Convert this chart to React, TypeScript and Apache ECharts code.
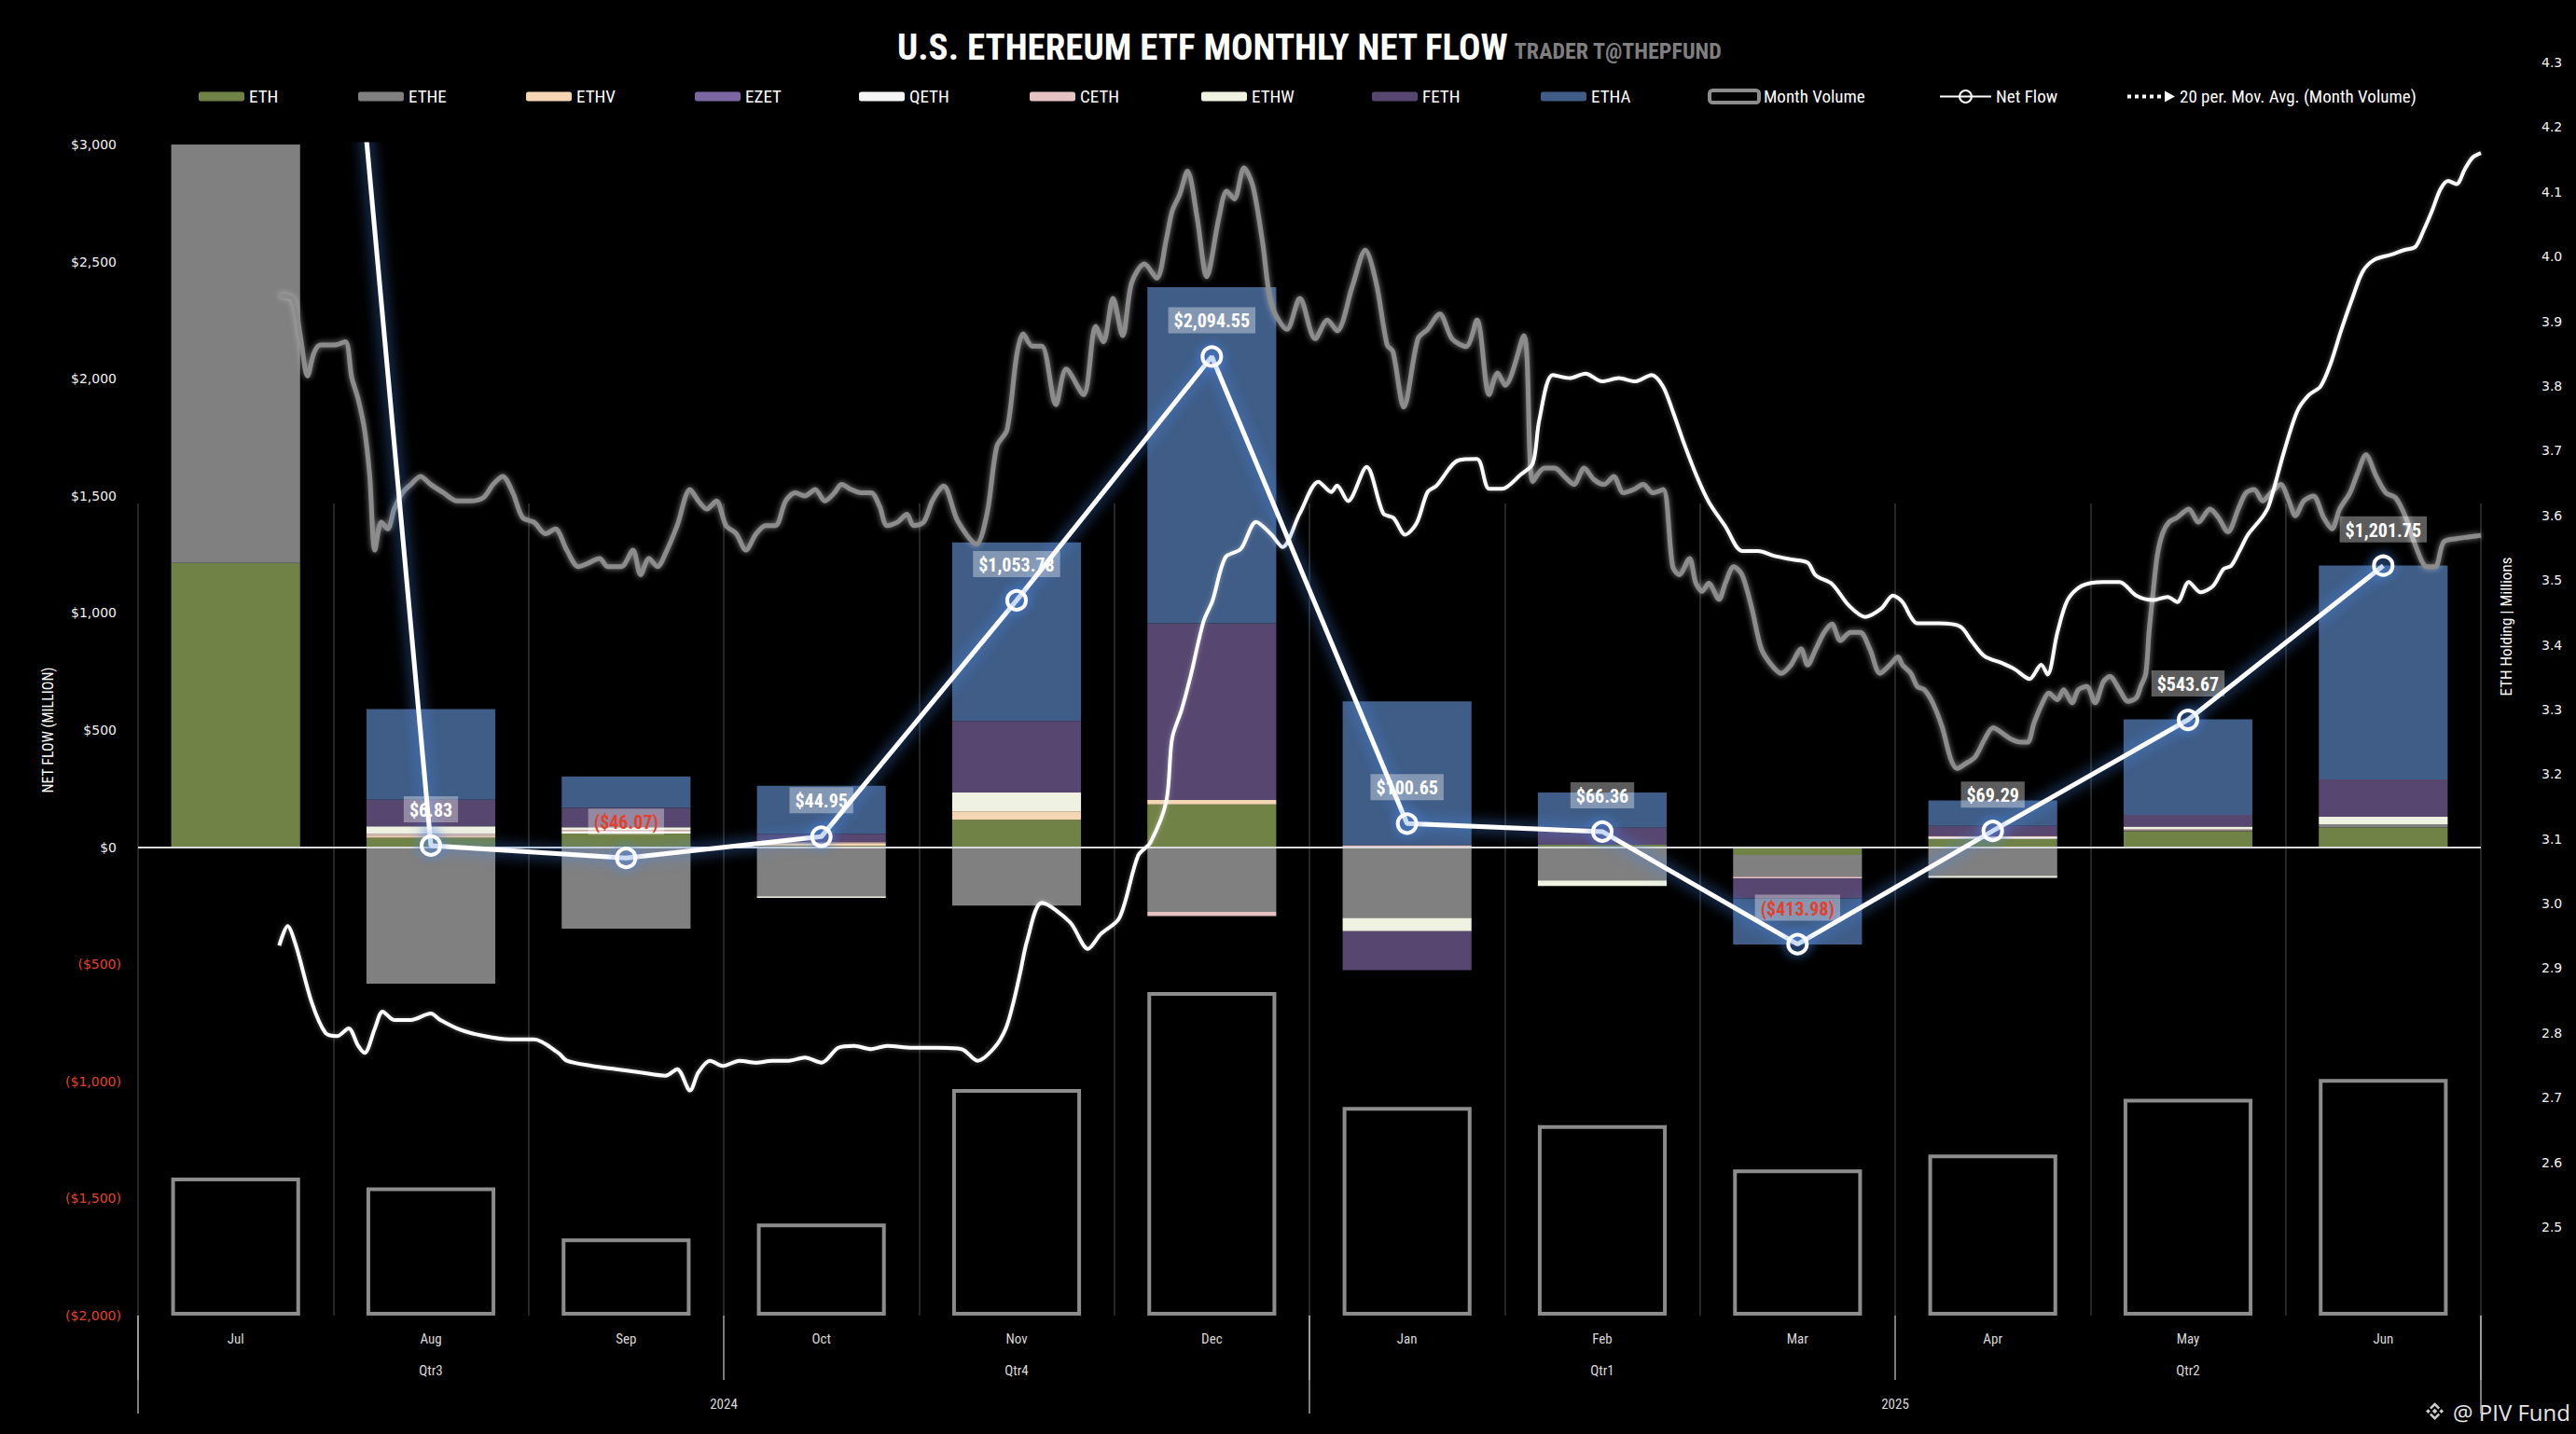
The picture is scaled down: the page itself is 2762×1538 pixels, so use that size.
import React, { useEffect, useRef } from "react";
import * as echarts from "echarts";

// ---------- categories ----------
const months = ["Jul", "Aug", "Sep", "Oct", "Nov", "Dec", "Jan", "Feb", "Mar", "Apr", "May", "Jun"];
const quarters = ["Qtr3", "Qtr4", "Qtr1", "Qtr2"];
const years = ["2024", "2025"];

// ---------- monthly net flow per ETF ($ million) ----------
const ethFlow = [1214, 40, 58, 5, 117, 183, 0, 10, -33, 35, 68, 84];
const etheFlow = [7930, -583, -348, -210, -249, -276, -302, -142, -93, -122, 4, 13];
const ethvFlow = [0, 9, 0, 12, 36, 18, 0, 0, 0, 0, 0, 0];
const ezetFlow = [0, 0, 0, 0, 0, 0, 0, 0, 0, 0, 0, 0];
const qethFlow = [0, 0, 8, 0, 0, 0, 0, 0, 0, 7, 0, 0];
const cethFlow = [0, 7, 7, 4, 0, -18, 8, 0, -7, 6, 5, 0];
const ethwFlow = [0, 33, 12, -7, 80, 0, -57, -24, 0, -9, 11, 33];
const fethFlow = [0, 113, 84, 36, 306, 755, -166, 73, -86, 43, 50, 159];
const ethaFlow = [0, 388, 133, 205, 762, 1435, 614, 150, -197, 108, 408, 914];

// total net flow ($ million)
const netFlow = [9144, 6.83, -46.07, 44.95, 1053.78, 2094.55, 100.65, 66.36, -413.98, 69.29, 543.67, 1201.75];

// month trading volume ($ billion)
const monthVolume = [8.4, 7.8, 4.7, 5.6, 13.8, 19.7, 12.7, 11.6, 8.9, 9.8, 13.2, 14.4];

// ---------- daily series: [day since Jul 1 2024, value] ----------
const ethPrice: [number, number][] = [
  [22.0, 3450], [24.1, 3436], [25.3, 3278], [26.4, 3113], [27.4, 3209], [28.4, 3243], [30.7, 3243], [32.3, 3257],
  [33.3, 3106], [34.3, 3016], [35.3, 2886], [36.1, 2693], [36.9, 2384], [37.9, 2501], [38.9, 2473], [39.9, 2556],
  [41.2, 2624], [42.5, 2659], [44.0, 2693], [45.6, 2659], [47.6, 2624], [49.7, 2590], [51.7, 2590], [53.8, 2604],
  [55.3, 2659], [56.8, 2693], [58.4, 2624], [59.9, 2521], [61.7, 2501], [63.5, 2453], [65.0, 2473], [66.8, 2384],
  [68.6, 2315], [70.1, 2329], [71.9, 2349], [73.2, 2315], [75.3, 2315], [77.1, 2384], [78.3, 2281], [79.6, 2349],
  [80.9, 2315], [82.4, 2384], [84.0, 2487], [86.0, 2638], [87.3, 2590], [88.6, 2556], [90.1, 2590], [91.6, 2487],
  [93.2, 2453], [94.7, 2384], [96.3, 2453], [97.8, 2487], [99.3, 2487], [100.9, 2590], [102.4, 2624], [103.9, 2611],
  [105.5, 2638], [107.0, 2590], [108.5, 2624], [109.6, 2659], [111.1, 2638], [112.6, 2624], [114.2, 2624], [115.5, 2570],
  [116.7, 2487], [118.3, 2501], [119.8, 2535], [120.8, 2487], [122.4, 2501], [123.8, 2593], [125.5, 2653], [127.7, 2506],
  [130.6, 2410], [132.3, 2541], [133.8, 2819], [135.4, 2889], [136.9, 3202], [137.9, 3290], [139.3, 3238], [140.8, 3238],
  [143.0, 2993], [144.6, 3142], [147.3, 3035], [149.2, 3321], [150.4, 3256], [151.9, 3438], [153.4, 3282], [154.8, 3503],
  [156.8, 3582], [158.7, 3522], [160.2, 3685], [161.1, 3802], [162.3, 3874], [163.5, 3971], [165.0, 3776], [166.5, 3529],
  [168.4, 3776], [169.6, 3887], [170.8, 3854], [172.3, 3984], [173.7, 3907], [175.2, 3672], [176.6, 3412], [179.0, 3308],
  [181.0, 3438], [183.4, 3269], [185.3, 3347], [186.8, 3302], [189.2, 3490], [191.2, 3640], [192.9, 3503], [194.6, 3243],
  [195.5, 3216], [197.2, 2983], [199.4, 3269], [200.9, 3308], [202.8, 3373], [204.7, 3269], [206.9, 3236], [208.6, 3347],
  [210.5, 3035], [211.8, 3126], [213.0, 3074], [215.9, 3282], [217.3, 2671], [219.1, 2728], [220.7, 2728], [222.2, 2693],
  [223.7, 2659], [225.3, 2728], [226.8, 2680], [228.4, 2659], [229.9, 2693], [231.4, 2624], [233.0, 2638], [234.5, 2659],
  [236.0, 2624], [237.6, 2638], [239.1, 2315], [240.1, 2281], [241.7, 2349], [242.7, 2246], [243.7, 2212], [244.7, 2246],
  [246.3, 2178], [247.3, 2246], [248.6, 2315], [249.9, 2281], [251.4, 2143], [252.9, 1971], [254.5, 1903], [256.0, 1868],
  [257.5, 1903], [259.1, 1971], [260.1, 1903], [261.4, 1971], [262.7, 2040], [263.9, 2075], [265.2, 2006], [266.8, 2040],
  [268.3, 2040], [269.8, 1971], [271.4, 1868], [272.9, 1903], [274.2, 1937], [274.9, 1903], [276.2, 1868], [277.2, 1813],
  [278.3, 1800], [279.6, 1745], [281.1, 1641], [282.4, 1511], [283.4, 1470], [284.7, 1490], [286.2, 1518], [287.7, 1593],
  [289.0, 1641], [290.3, 1621], [291.8, 1593], [293.4, 1580], [294.4, 1580], [295.4, 1662], [296.7, 1745], [297.7, 1786],
  [299.0, 1758], [300.0, 1800], [301.3, 1745], [302.3, 1800], [303.6, 1813], [304.9, 1745], [306.2, 1834], [307.2, 1855],
  [308.7, 1800], [310.0, 1751], [311.3, 1765], [312.0, 1813], [312.8, 1868], [313.3, 2040], [313.9, 2198], [314.6, 2363],
  [315.4, 2453], [316.4, 2501], [317.7, 2521], [319.5, 2556], [321.0, 2501], [322.8, 2556], [324.1, 2521], [325.6, 2460],
  [327.2, 2556], [328.4, 2624], [329.7, 2638], [331.0, 2590], [332.3, 2624], [333.8, 2659], [335.1, 2590], [336.1, 2528],
  [337.4, 2590], [338.9, 2611], [340.5, 2521], [341.8, 2473], [343.0, 2556], [344.6, 2624], [345.8, 2707], [347.1, 2783],
  [348.7, 2693], [350.2, 2624], [351.7, 2604], [353.3, 2521], [354.8, 2404], [356.6, 2315], [357.9, 2315], [359.2, 2418],
  [361.2, 2432], [363.0, 2439], [365.0, 2446],
];

// ETF ETH holdings (millions of ETH)
const ethHolding: [number, number][] = [
  [22.0, 2.935], [23.3, 2.965], [24.6, 2.935], [27.1, 2.846], [29.2, 2.8], [31.0, 2.795], [32.8, 2.807], [34.3, 2.78],
  [35.3, 2.769], [36.9, 2.807], [38.1, 2.833], [39.9, 2.82], [42.5, 2.82], [45.6, 2.83], [47.1, 2.82], [50.2, 2.805],
  [54.0, 2.795], [57.9, 2.79], [61.7, 2.79], [65.5, 2.769], [66.8, 2.757], [70.7, 2.749], [74.5, 2.744], [78.3, 2.739],
  [82.2, 2.734], [84.0, 2.744], [86.0, 2.711], [87.3, 2.739], [89.1, 2.757], [91.1, 2.749], [93.7, 2.757], [96.3, 2.754],
  [98.8, 2.757], [101.4, 2.757], [103.9, 2.762], [106.5, 2.754], [109.1, 2.777], [111.6, 2.78], [114.2, 2.775],
  [116.7, 2.78], [120.6, 2.777], [124.4, 2.777], [128.3, 2.775], [130.8, 2.757], [133.4, 2.777], [135.2, 2.807],
  [136.4, 2.848], [137.5, 2.896], [138.5, 2.942], [140.8, 3.001], [145.2, 2.971], [148.0, 2.93], [150.0, 2.953],
  [152.9, 2.978], [155.8, 3.074], [157.7, 3.094], [160.2, 3.158], [161.1, 3.255], [162.6, 3.3], [164.0, 3.352],
  [166.0, 3.436], [167.4, 3.468], [169.4, 3.535], [171.8, 3.548], [174.2, 3.59], [176.6, 3.57], [178.3, 3.551],
  [181.0, 3.603], [183.9, 3.652], [185.9, 3.636], [186.8, 3.646], [188.5, 3.622], [191.4, 3.675], [194.0, 3.603],
  [195.6, 3.596], [197.4, 3.57], [199.2, 3.588], [200.9, 3.636], [202.3, 3.646], [205.7, 3.685], [208.6, 3.687],
  [210.5, 3.641], [212.5, 3.641], [215.4, 3.663], [217.3, 3.68], [218.3, 3.747], [220.4, 3.817], [223.0, 3.812],
  [225.5, 3.819], [228.1, 3.807], [230.7, 3.812], [233.2, 3.807], [235.8, 3.817], [237.6, 3.799], [239.1, 3.761],
  [240.9, 3.71], [242.9, 3.659], [244.7, 3.621], [247.3, 3.583], [249.9, 3.545], [252.4, 3.545], [255.0, 3.537],
  [257.5, 3.532], [260.1, 3.527], [261.4, 3.507], [263.9, 3.494], [266.5, 3.461], [269.1, 3.443], [271.6, 3.456],
  [273.4, 3.476], [274.9, 3.466], [276.2, 3.443], [277.2, 3.433], [280.6, 3.433], [283.9, 3.428], [285.7, 3.405],
  [287.7, 3.382], [290.3, 3.372], [292.4, 3.362], [294.7, 3.347], [296.5, 3.369], [297.5, 3.354], [299.0, 3.418],
  [300.6, 3.469], [302.8, 3.491], [306.2, 3.497], [308.7, 3.497], [311.3, 3.476], [313.9, 3.469], [316.2, 3.474],
  [317.7, 3.466], [319.5, 3.497], [321.3, 3.481], [323.3, 3.491], [324.9, 3.517], [326.1, 3.522], [327.4, 3.545],
  [328.7, 3.57], [331.0, 3.598], [332.0, 3.616], [334.3, 3.697], [336.4, 3.761], [338.2, 3.786], [340.0, 3.799],
  [341.5, 3.832], [343.3, 3.888], [345.1, 3.939], [346.6, 3.977], [348.4, 3.995], [351.0, 4.003], [353.0, 4.01],
  [354.8, 4.015], [356.1, 4.041], [357.4, 4.071], [358.7, 4.104], [359.9, 4.117], [361.2, 4.112], [362.5, 4.135],
  [363.7, 4.153], [365.0, 4.16],
];

// axis tick settings
const flowTicks = { min: -2000, max: 3000, step: 500 };
const holdingTicks = { min: 2.5, max: 4.3, step: 0.1 };

const NARROW = '"Liberation Sans Narrow", "Roboto Condensed", "Arial Narrow", "Liberation Sans", sans-serif';
const WIDE = '"DejaVu Sans", Verdana, sans-serif';
const RED = "#e5402d";

const stackDefs = [
  { name: "ETH", data: ethFlow, color: "#718246" },
  { name: "ETHE", data: etheFlow, color: "#808080" },
  { name: "ETHV", data: ethvFlow, color: "#f4d6b4" },
  { name: "EZET", data: ezetFlow, color: "#7b67a3" },
  { name: "QETH", data: qethFlow, color: "#f5f5f5" },
  { name: "CETH", data: cethFlow, color: "#e6c2c2" },
  { name: "ETHW", data: ethwFlow, color: "#eff1e1" },
  { name: "FETH", data: fethFlow, color: "#574770" },
  { name: "ETHA", data: ethaFlow, color: "#3f5d87" },
];

const money = (v: number, dec: number) =>
  Math.abs(v).toLocaleString("en-US", { minimumFractionDigits: dec, maximumFractionDigits: dec });

echarts.graphic.registerShape(
  "pivlogo",
  echarts.graphic.extendPath(
    "M12,9.4L14.6,12L12,14.6L9.4,12Z M3,12L5.2,9.8L7.4,12L5.2,14.2Z M16.6,12L18.8,9.8L21,12L18.8,14.2Z " +
      "M12,3L17.3,8.3L15.6,10L12,6.4L8.4,10L6.7,8.3Z M12,21L17.3,15.7L15.6,14L12,17.6L8.4,14L6.7,15.7Z",
    {}
  )
);

function buildOption() {
  const GRID = { left: 148, right: 102, top: 155, bottom: 127 };

  const legendDefs: any[] = [
    { name: "ETH", left: 213 },
    { name: "ETHE", left: 384 },
    { name: "ETHV", left: 564 },
    { name: "EZET", left: 745 },
    { name: "QETH", left: 921 },
    { name: "CETH", left: 1104 },
    { name: "ETHW", left: 1288 },
    { name: "FETH", left: 1471 },
    { name: "ETHA", left: 1652 },
    {
      name: "Month Volume",
      left: 1831,
      w: 53,
      h: 13,
      itemStyle: { color: "rgba(0,0,0,0)", borderColor: "#8c8c8c", borderWidth: 4 },
    },
    { name: "Net Flow", left: 2079, w: 55, h: 16 },
    {
      name: "20 per. Mov. Avg. (Month Volume)",
      left: 2281,
      w: 51,
      h: 12,
      icon: "path://M0,4h4v4h-4z M8,4h4v4h-4z M16,4h4v4h-4z M24,4h4v4h-4z M32,4h4v4h-4z M40,0L51,6L40,12Z",
    },
  ];

  const legends = legendDefs.map((d) => ({
    data: [d.icon ? { name: d.name, icon: d.icon } : d.name],
    left: d.left,
    top: 94,
    padding: 0,
    itemGap: 0,
    itemWidth: d.w || 49,
    itemHeight: d.h || 10,
    selectedMode: false,
    textStyle: { color: "#ffffff", fontFamily: NARROW, fontSize: 19 },
    ...(d.itemStyle ? { itemStyle: d.itemStyle } : {}),
  }));

  const barSeries = stackDefs.map((s) => ({
    name: s.name,
    type: "bar",
    stack: "flow",
    xAxisIndex: 0,
    yAxisIndex: 0,
    barWidth: "66%",
    clip: true,
    z: 2,
    data: s.data,
    itemStyle: { color: s.color },
    emphasis: { disabled: true },
  }));

  const flowLabel = (v: number) =>
    v < 0 ? `{n|(\$${money(v, 2)})}` : `{p|\$${money(v, 2)}}`;

  return {
    animation: false,
    backgroundColor: "#000000",
    title: {
      text: "{a|U.S. ETHEREUM ETF MONTHLY NET FLOW}{b|TRADER T@THEPFUND}",
      left: 962,
      top: 31,
      padding: 0,
      textStyle: {
        rich: {
          a: { fontFamily: NARROW, fontWeight: "bold", fontSize: 39, color: "#ffffff", verticalAlign: "bottom" },
          b: {
            fontFamily: NARROW,
            fontWeight: "bold",
            fontSize: 24,
            color: "#7f7f7f",
            padding: [0, 0, 3, 6],
            verticalAlign: "bottom",
          },
        },
      },
    },
    legend: legends,
    grid: [
      { ...GRID },
      { left: 148, right: 102, top: 67, bottom: 222 },
      { left: 148, right: 102, top: 540, bottom: 127 },
    ],
    xAxis: [
      {
        type: "category",
        gridIndex: 0,
        data: months,
        position: "bottom",
        axisLine: { show: false },
        axisTick: { show: false },
        axisLabel: { color: "#d9d9d9", fontFamily: NARROW, fontSize: 15, margin: 17, interval: 0 },
        splitLine: { show: false },
      },
      { type: "category", gridIndex: 0, data: months, show: false },
      { type: "value", gridIndex: 0, min: 0, max: 365, show: false },
      {
        type: "category",
        gridIndex: 0,
        data: quarters,
        position: "bottom",
        axisLine: { show: false },
        axisTick: { show: true, length: 69, interval: 0, lineStyle: { color: "#a6a6a6", width: 1.5 } },
        axisLabel: { color: "#d9d9d9", fontFamily: NARROW, fontSize: 15, margin: 51, interval: 0 },
        splitLine: { show: false },
      },
      {
        type: "category",
        gridIndex: 0,
        data: years,
        position: "bottom",
        axisLine: { show: false },
        axisTick: { show: true, length: 105, interval: 0, lineStyle: { color: "#a6a6a6", width: 1.5 } },
        axisLabel: { color: "#d9d9d9", fontFamily: NARROW, fontSize: 15, margin: 87, interval: 0 },
        splitLine: { show: false },
      },
      { type: "value", gridIndex: 1, min: 0, max: 365, show: false },
      {
        type: "category",
        gridIndex: 2,
        data: months,
        axisLine: { show: false },
        axisTick: { show: false },
        axisLabel: { show: false },
        splitLine: { show: true, interval: 0, lineStyle: { color: "#262626", width: 2 } },
      },
    ],
    yAxis: [
      {
        type: "value",
        gridIndex: 0,
        min: flowTicks.min,
        max: flowTicks.max,
        interval: flowTicks.step,
        position: "left",
        axisLine: { show: false },
        axisTick: { show: false },
        splitLine: { show: false },
        axisLabel: {
          margin: 18,
          formatter: (v: number) => (v < 0 ? `{n|(\$${money(v, 0)})}` : `{p|\$${money(v, 0)}}`),
          rich: {
            p: { color: "#f2f2f2", fontFamily: WIDE, fontSize: 14, padding: [0, 5, 0, 0] },
            n: { color: RED, fontFamily: WIDE, fontSize: 14 },
          },
        },
        name: "NET FLOW (MILLION)",
        nameLocation: "middle",
        nameGap: 86,
        nameRotate: 90,
        nameTextStyle: { color: "#ffffff", fontFamily: NARROW, fontSize: 16 },
      },
      { type: "value", gridIndex: 0, min: 0, max: 71.3, show: false },
      { type: "value", gridIndex: 0, min: -820, max: 4082, show: false },
      {
        type: "value",
        gridIndex: 1,
        min: holdingTicks.min,
        max: holdingTicks.max,
        interval: holdingTicks.step,
        position: "right",
        axisLine: { show: false },
        axisTick: { show: false },
        splitLine: { show: false },
        axisLabel: {
          margin: 65,
          color: "#f2f2f2",
          fontFamily: WIDE,
          fontSize: 14,
          formatter: (v: number) => v.toFixed(1),
        },
      },
      { type: "value", gridIndex: 2, show: false, min: 0, max: 1 },
    ],
    graphic: [
      {
        type: "text",
        x: 2687,
        y: 672,
        rotation: Math.PI / 2,
        style: {
          text: "ETH Holding | Millions",
          fill: "#ffffff",
          font: `17px ${NARROW}`,
          align: "center",
          verticalAlign: "middle",
        },
      },
      {
        type: "pivlogo",
        x: 2598,
        y: 1501,
        scaleX: 1.05,
        scaleY: 1.05,
        style: { fill: "#cfcfcf" },
      },
      {
        type: "text",
        x: 2630,
        y: 1514,
        style: {
          text: "@ PIV Fund",
          fill: "#e6e6e6",
          font: `24px "Open Sans", "Noto Sans", sans-serif`,
          align: "left",
          verticalAlign: "middle",
        },
      },
    ],
    series: [
      ...barSeries,
      {
        name: "Month Volume",
        type: "bar",
        xAxisIndex: 1,
        yAxisIndex: 1,
        barWidth: "66%",
        z: 1,
        data: monthVolume,
        itemStyle: { color: "rgba(0,0,0,0)", borderColor: "#8c8c8c", borderWidth: 4 },
        emphasis: { disabled: true },
      },
      {
        name: "ETH Price",
        type: "line",
        xAxisIndex: 2,
        yAxisIndex: 2,
        data: ethPrice,
        showSymbol: false,
        smooth: 0.3,
        z: 4,
        silent: true,
        lineStyle: { color: "#8c8c8c", width: 5, shadowColor: "rgba(220,220,220,0.6)", shadowBlur: 6 },
      },
      {
        name: "ETH Holding",
        type: "line",
        xAxisIndex: 5,
        yAxisIndex: 3,
        data: ethHolding,
        showSymbol: false,
        smooth: 0.3,
        z: 5,
        silent: true,
        lineStyle: { color: "#ffffff", width: 4, shadowColor: "rgba(255,255,255,0.35)", shadowBlur: 5 },
      },
      {
        name: "20 per. Mov. Avg. (Month Volume)",
        type: "line",
        xAxisIndex: 2,
        yAxisIndex: 2,
        data: [],
        showSymbol: false,
        itemStyle: { color: "#ffffff" },
        lineStyle: { color: "#ffffff", type: "dotted", width: 3 },
      },
      {
        name: "Net Flow",
        type: "line",
        xAxisIndex: 0,
        yAxisIndex: 0,
        z: 10,
        clip: true,
        symbol: "circle",
        symbolSize: 20,
        showAllSymbol: true,
        data: netFlow.map((v, i) =>
          i === 0 ? { value: v, symbol: "none", label: { show: false } } : v
        ),
        lineStyle: { color: "#ffffff", width: 5, shadowColor: "rgba(70,135,235,1)", shadowBlur: 16 },
        itemStyle: {
          color: "rgba(0,0,0,0)",
          borderColor: "#ffffff",
          borderWidth: 4,
          shadowColor: "rgba(70,135,235,1)",
          shadowBlur: 12,
        },
        label: {
          show: true,
          position: "top",
          distance: 13,
          formatter: (p: any) => flowLabel(p.value),
          backgroundColor: "rgba(255,255,255,0.36)",
          padding: [5, 6, 3, 6],
          rich: {
            p: { color: "#ffffff", fontFamily: NARROW, fontWeight: "bold", fontSize: 20 },
            n: { color: RED, fontFamily: NARROW, fontWeight: "bold", fontSize: 20 },
          },
        },
        emphasis: { disabled: true },
        markLine: {
          silent: true,
          symbol: "none",
          label: { show: false },
          lineStyle: { color: "#d9d9d9", width: 2, type: "solid" },
          data: [{ yAxis: 0 }],
        },
      },
    ],
  };
}

export default function App() {
  const ref = useRef<HTMLDivElement>(null);
  useEffect(() => {
    document.body.style.margin = "0";
    document.body.style.background = "#000";
    const chart = echarts.init(ref.current as HTMLDivElement, undefined, { renderer: "svg" });
    chart.setOption(buildOption() as any);
    return () => chart.dispose();
  }, []);
  return <div ref={ref} style={{ width: 2762, height: 1538, background: "#000" }} />;
}
